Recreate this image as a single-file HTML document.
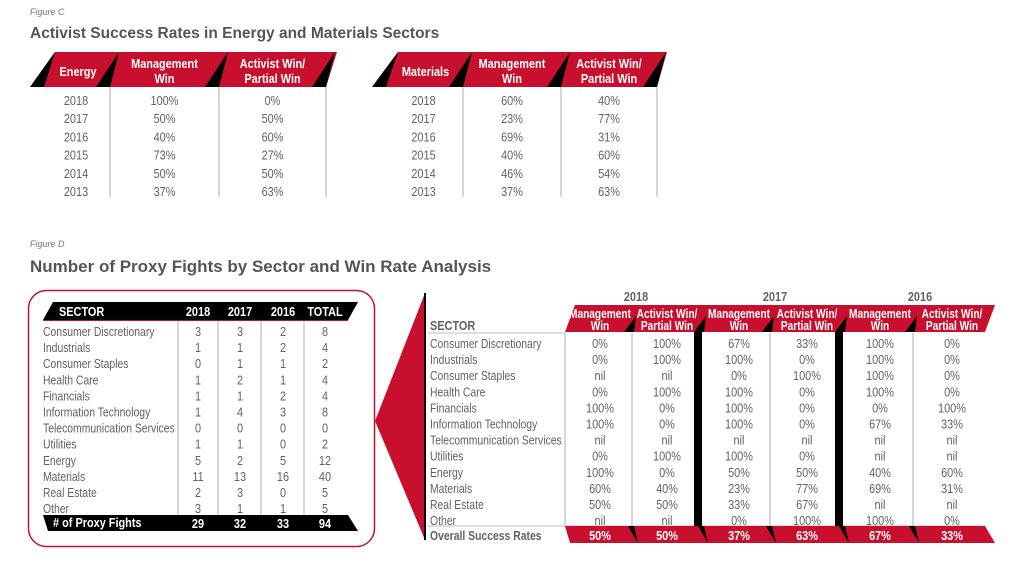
<!DOCTYPE html>
<html><head><meta charset="utf-8">
<style>
html,body{margin:0;padding:0;background:#fff;}
svg{display:block;font-family:"Liberation Sans",sans-serif;}
.g{fill:#626262;font-size:13px;}
.w{fill:#fff;font-size:13px;font-weight:bold;}
</style></head>
<body>
<svg id="s" width="1024" height="576" viewBox="0 0 1024 576" xmlns="http://www.w3.org/2000/svg">
<text x="30" y="15" font-size="9" font-style="italic" fill="#777">Figure C</text>
<text x="30" y="38" font-size="15.5" font-weight="bold" fill="#555">Activist Success Rates in Energy and Materials Sectors</text>
<text x="30" y="247" font-size="9" font-style="italic" fill="#777">Figure D</text>
<text x="30" y="272" font-size="17" font-weight="bold" fill="#555">Number of Proxy Fights by Sector and Win Rate Analysis</text>
<rect x="28.5" y="290.5" width="346" height="256" rx="18" fill="none" stroke="#c8102e" stroke-width="1.5"/>
<polygon points="375,421 425,293 425,540" fill="#c8102e"/>
<line x1="425" y1="293" x2="425" y2="540" stroke="#000" stroke-width="2"/>
<g id="root"></g>
</svg>
<script>
const years=["2018","2017","2016","2015","2014","2013"];
const energyMgmt=["100%","50%","40%","73%","50%","37%"];
const energyAct=["0%","50%","60%","27%","50%","63%"];
const matMgmt=["60%","23%","69%","40%","46%","37%"];
const matAct=["40%","77%","31%","60%","54%","63%"];
const sectors=["Consumer Discretionary","Industrials","Consumer Staples","Health Care","Financials","Information Technology","Telecommunication Services","Utilities","Energy","Materials","Real Estate","Other"];
const count2018=[3,1,0,1,1,1,0,1,5,11,2,3];
const count2017=[3,1,1,2,1,4,0,1,2,13,3,1];
const count2016=[2,2,1,1,2,3,0,0,5,16,0,1];
const countTotal=[8,4,2,4,4,8,0,2,12,40,5,5];
const countSums=[29,32,33,94];
const m2018=["0%","0%","nil","0%","100%","100%","nil","0%","100%","60%","50%","nil"];
const a2018=["100%","100%","nil","100%","0%","0%","nil","100%","0%","40%","50%","nil"];
const m2017=["67%","100%","0%","100%","100%","100%","nil","100%","50%","23%","33%","0%"];
const a2017=["33%","0%","100%","0%","0%","0%","nil","0%","50%","77%","67%","100%"];
const m2016=["100%","100%","100%","100%","0%","67%","nil","nil","40%","69%","nil","100%"];
const a2016=["0%","0%","0%","0%","100%","33%","nil","nil","60%","31%","nil","0%"];
const overall=["50%","50%","37%","63%","67%","33%"];

const NS="http://www.w3.org/2000/svg";
const root=document.getElementById('root');
function el(tag,attrs,name,txt){
  const e=document.createElementNS(NS,tag);
  for(const k in attrs)e.setAttribute(k,attrs[k]);
  
  
  if(txt!==undefined)e.textContent=txt;
  root.appendChild(e);return e;
}
function txt(x,y,s,cls,anchor,name,extra,sx){
  const a={x:0,y:0,transform:`translate(${x},${y}) scale(${sx||0.84},1)`,class:cls,'text-anchor':anchor||'middle'};
  if(extra)Object.assign(a,extra);
  return el('text',a,name,s);
}
function vline(x,y1,y2,name,c,w){el('line',{x1:x,y1:y1,x2:x,y2:y2,stroke:c||'#bbb','stroke-width':w||1.2},name);}

function smallTable(x0,topLeft,seps,right,rightTop,title,col1,col2,prefix){
  const y1=52,y2=87;
  el('polygon',{points:`${x0},${y2} ${topLeft},${y1} ${rightTop},${y1} ${right},${y2}`,fill:'#c8102e'},prefix+'-header-band');
  el('polygon',{points:`${x0},${y2} ${topLeft},${y1} ${x0+14},${y2}`,fill:'#000'},prefix+'-corner');
  [...seps,right].forEach((s,i)=>{
    el('polygon',{points:`${s-14},${y2} ${s+9},${y1} ${s},${y2}`,fill:'#000'},prefix+'-separator-wedge');
  });
  const hf={'font-size':'15','font-weight':'normal'};
  txt((x0+seps[0])/2+8,76,title,'w','middle',prefix+'-header-sector',hf);
  const c1=(seps[0]+seps[1])/2,c2=(seps[1]+right)/2;
  txt(c1,68,'Management','w','middle',prefix+'-header-mgmt',hf);
  txt(c1,83,'Win','w','middle',prefix+'-header-mgmt',hf);
  txt(c2,68,'Activist Win/','w','middle',prefix+'-header-activist',hf);
  txt(c2,83,'Partial Win','w','middle',prefix+'-header-activist',hf);
  [...seps,right].forEach(s=>vline(s,87,197,prefix+'-column-line'));
  years.forEach((y,i)=>{
    const yy=105+i*18.2;
    txt((x0+seps[0])/2+6,yy,y,'g','middle',prefix+'-year',{'font-size':'15'});
    txt(c1,yy,col1[i],'g','middle',prefix+'-mgmt-value',{'font-size':'15'});
    txt(c2,yy,col2[i],'g','middle',prefix+'-activist-value',{'font-size':'15'});
  });
}
smallTable(30,55,[110,219],326,337,'Energy',energyMgmt,energyAct,'energy');
smallTable(372,398,[463,561],657,667,'Materials',matMgmt,matAct,'materials');

el('polygon',{points:'43,320 53,302 358,302 348,320'},'count-header-band');
el('line',{x1:43,y1:320.5,x2:348,y2:320.5,stroke:'#c8102e','stroke-width':1},'count-header-underline');
const cc=[198,240,283,325];
txt(59,316,'SECTOR','w','start','count-header-sector');
['2018','2017','2016','TOTAL'].forEach((h,i)=>txt(cc[i],316,h,'w','middle','count-header-year'));
[178,218,261,304].forEach(x=>vline(x,321,515,'count-column-line'));
const cols=[count2018,count2017,count2016,countTotal];
sectors.forEach((s,i)=>{
  const y=336+i*16.1;
  txt(43,y,s,'g','start','count-sector-label',null,0.8);
  cols.forEach((c,j)=>txt(cc[j],y,c[i],'g','middle','count-value'));
});
el('polygon',{points:'43,515 48,531 358,531 348,515'},'count-footer-band');
txt(53,527,'# of Proxy Fights','w','start','count-footer-label',{'font-size':'11.5'});
countSums.forEach((v,j)=>txt(cc[j],528,v,'w','middle','count-footer-value',{'font-size':'14'}));

const rc=[600,667,739,807,880,952];
const rhdr=[['Management','Win'],['Activist Win/','Partial Win']];
el('polygon',{points:'565,332 575,305 995,305 985,332',fill:'#c8102e'},'winrate-header-band');
[632,702,770,843,913].forEach(x=>el('polygon',{points:`${x-8},332 ${x+4},316 ${x+2},332`,fill:'#000'},'winrate-header-wedge'));
txt(636,301,'2018','g','middle','winrate-year-2018',{'font-weight':'bold'});
txt(775,301,'2017','g','middle','winrate-year-2017',{'font-weight':'bold'});
txt(920,301,'2016','g','middle','winrate-year-2016',{'font-weight':'bold'});
rc.forEach((x,i)=>{
  txt(x,318,rhdr[i%2][0],'w','middle','winrate-header-label',{'font-size':'12'},0.78);
  txt(x,330,rhdr[i%2][1],'w','middle','winrate-header-label',{'font-size':'12'},0.78);
});
txt(430,330,'SECTOR','g','start','winrate-header-sector',{'font-size':'11.5','font-weight':'bold'});
el('line',{x1:428,y1:333,x2:565,y2:333,stroke:'#bbb','stroke-width':1},'winrate-header-underline');
el('line',{x1:428,y1:526,x2:985,y2:526,stroke:'#bbb','stroke-width':1},'winrate-footer-line');
[565,632,770,913].forEach(x=>vline(x,333,526,'winrate-column-line'));
el('rect',{x:694,y:332,width:8,height:194,fill:'#000'},'winrate-year-divider');
el('rect',{x:835,y:332,width:8,height:194,fill:'#000'},'winrate-year-divider');
const rcols=[m2018,a2018,m2017,a2017,m2016,a2016];
sectors.forEach((s,i)=>{
  const y=348+i*16.1;
  txt(430,y,s,'g','start','winrate-sector-label',null,0.8);
  rcols.forEach((c,j)=>txt(rc[j],y,c[i],'g','middle','winrate-value'));
});
txt(430,540,'Overall Success Rates','g','start','winrate-overall-label',{'font-weight':'bold'},0.8);
el('polygon',{points:'565,526 985,526 995,543 570,543',fill:'#c8102e'},'winrate-overall-band');
[632,702,770,843,913].forEach(x=>el('polygon',{points:`${x-4},526 ${x+2},526 ${x+6},543`,fill:'#000'},'winrate-overall-wedge'));
overall.forEach((v,j)=>txt(rc[j],540,v,'w','middle','winrate-overall-value'));
</script>
</body></html>
